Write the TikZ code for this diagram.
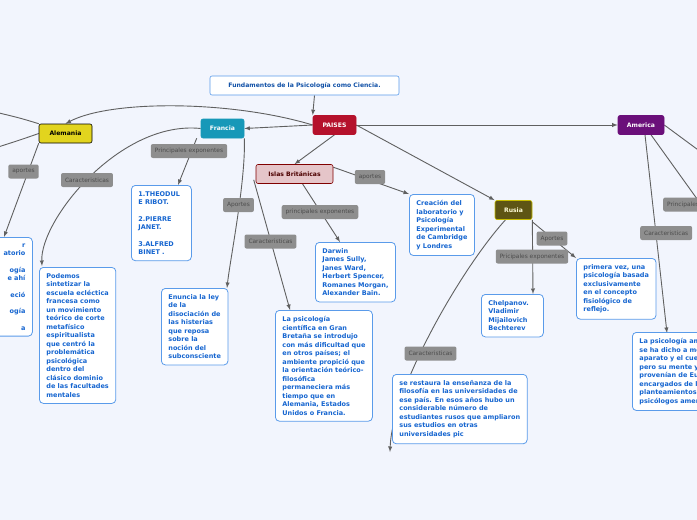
\documentclass[tikz,border=0pt]{standalone}
\usepackage{fontspec}
\setmainfont{DejaVu Sans}
\pgfdeclarelayer{back}
\pgfdeclarelayer{lines}
\pgfsetlayers{back,lines,main}
\begin{document}
\begin{tikzpicture}[x=1pt,y=-1pt,
  every node/.style={font=\bfseries\fontsize{6.1}{8.5}\selectfont},
  bt/.style={font=\bfseries\fontsize{6.5}{8.5}\selectfont},
  main/.style={draw,rounded corners=2pt,minimum height=19pt,inner xsep=3pt,line width=0.6pt},
  lbl/.style={fill=lblc,text=black!70,rounded corners=2pt,minimum height=14pt,inner xsep=4pt,font=\fontsize{5.9}{7}\selectfont},
  txt/.style={bt,draw=boxb,fill=white,rounded corners=4pt,line width=0.8pt,text=boxt,align=left,anchor=north west,inner xsep=7pt,inner ysep=6pt},
  con/.style={draw=gray!75!black,line width=0.9pt},
  arr/.style={con,-latex}]
\definecolor{bg}{HTML}{F2F5FD}
\definecolor{lblc}{HTML}{8E8E8E}
\definecolor{boxb}{HTML}{5A9BEA}
\definecolor{boxt}{HTML}{1565D0}
\definecolor{franc}{HTML}{1798B8}
\definecolor{alemc}{HTML}{E2D41E}
\definecolor{paisc}{HTML}{B5112C}
\definecolor{ibc}{HTML}{E5C5C9}
\definecolor{rusc}{HTML}{5E5514}
\definecolor{amerc}{HTML}{6B0F7A}
\begin{pgfonlayer}{back}
\fill[bg] (0,0) rectangle (697,520);
\end{pgfonlayer}
\useasboundingbox (0,0) rectangle (697,520);
% main nodes
\node[main,draw=boxb,fill=white,text=boxt!80!black,minimum width=189pt] (fund) at (304.5,85.5) {Fundamentos de la Psicología como Ciencia.};
\node[main,fill=paisc,draw=paisc,text=white,minimum width=43pt] (pais) at (334.5,125) {PAISES};
\node[main,fill=alemc,draw=black,text=black,minimum width=53pt] (alem) at (65.5,133.5) {Alemania};
\node[main,fill=franc,draw=franc,text=white,minimum width=43pt] (fran) at (222.5,128.5) {Francia};
\node[main,fill=ibc,draw=red!50!black,text=red!30!black,minimum width=77pt] (ib) at (294.5,174) {Islas Británicas};
\node[main,fill=rusc,draw=yellow!50!olive,text=white!85!yellow,minimum width=37pt] (rus) at (513.5,210) {Rusia};
\node[main,fill=amerc,draw=amerc,text=white,minimum width=46pt] (amer) at (641,125) {America};
\coordinate (offL1) at (-5,112);
\coordinate (offL2) at (-5,148);
\coordinate (offR1) at (705,155);
\coordinate (offR2) at (705,210);
% text boxes
\node[txt,align=right,text width=78pt] (tAl) at (-60,237) {r\\atorio\\[8pt]ogía\\e ahí\\[8pt]eció\\[8pt]ogía\\[8pt]a};
\node[txt] (tFc) at (39,267) {Podemos\\sintetizar la\\escuela ecléctica\\francesa como\\un movimiento\\teórico de corte\\metafísico\\espiritualista\\que centró la\\problemática\\psicológica\\dentro del\\clásico dominio\\de las facultades\\mentales};
\node[txt,text width=46pt] (tFp) at (131,185) {1.THEODUL\\E RIBOT.\\[8pt]2.PIERRE\\JANET.\\[8pt]3.ALFRED\\BINET .};
\node[txt] (tFa) at (161,288) {Enuncia la ley\\de la\\disociación de\\las histerias\\que reposa\\sobre la\\noción del\\subconsciente};
\node[txt] (tIc) at (275,310) {La psicología\\científica en Gran\\Bretaña se introdujo\\con más dificultad que\\en otros países; el\\ambiente propició que\\la orientación teórico-\\filosófica\\permaneciera más\\tiempo que en\\Alemania, Estados\\Unidos o Francia.};
\node[txt] (tIp) at (315,242) {Darwin\\James Sully,\\Janes Ward,\\Herbert Spencer,\\Romanes Morgan,\\Alexander Bain.};
\node[txt] (tIa) at (409,194) {Creación del\\laboratorio y\\Psicología\\Experimental\\de Cambridge\\y Londres};
\node[txt,text width=48pt] (tRp) at (481,294) {Chelpanov.\\Vladimir\\Mijailovich\\Bechterev};
\node[txt] (tRc) at (392,374) {se restaura la enseñanza de la\\filosofía en las universidades de\\ese país. En esos años hubo un\\considerable número de\\estudiantes rusos que ampliaron\\sus estudios en otras\\universidades pic};
\node[txt] (tRa) at (576,258) {primera vez, una\\psicología basada\\exclusivamente\\en el concepto\\fisiológico de\\reflejo.};
\node[txt,text width=100pt] (tAm) at (632,332) {La psicología americana\\se ha dicho a menudo\\aparato y el cuerpo\\pero su mente y sus\\provenían de Europa\\encargados de los\\planteamientos de los\\psicólogos americanos};
% connectors
\begin{pgfonlayer}{lines}
\draw[arr] (fund.south) ++(10,0) -- (pais.north west);
\draw[arr] (pais.west) .. controls (230,100) and (110,100) .. (alem.north);
\draw[arr] (pais.west) -- (fran.east);
\draw[arr] (pais.south) -- (ib.north);
\draw[arr] (pais.east) -- (rus.north west);
\draw[arr] (pais.east) -- (amer.west);
\draw[con] (alem.north west) .. controls (20,118) .. (offL1);
\draw[con] (alem.west) .. controls (20,140) .. (offL2);
\draw[arr] (alem.south west) -- (4,237);
\draw[arr] (fran.west) .. controls (120,120) and (40,220) .. (42,266);
\draw[arr] (fran.south west) ++(-4,0) -- (178,185);
\draw[arr] (fran.south east) .. controls (246,180) and (230,260) .. (227,288);
\draw[arr] (ib.south west) ++(-2,-4) -- (290,310);
\draw[arr] (ib.south) ++(8,0) -- (340,242);
\draw[arr] (ib.north east) ++(0,3) -- (409,194);
\draw[arr] (rus.south) ++(-8,0) .. controls (460,270) and (392,390) .. (390,452);
\draw[arr] (rus.south east) -- (533,294);
\draw[arr] (rus.south east) ++(0,2) -- (576,258);
\draw[arr] (amer.south) ++(4,0) -- (667,333);
\draw[con] (amer.south) ++(10,0) -- (offR2);
\draw[con] (amer.east) -- (offR1);
\end{pgfonlayer}
% connector labels
\node[lbl] (l1) at (23.5,171.5) {aportes};
\node[lbl] (l2) at (87,180) {Caracteristicas};
\node[lbl] (l3) at (189,151) {Principales exponentes};
\node[lbl] (l4) at (238.5,205) {Aportes};
\node[lbl] (l5) at (270.5,241.5) {Caracteristicas};
\node[lbl] (l6) at (320,212) {principales exponentes};
\node[lbl] (l7) at (370,177) {aportes};
\node[lbl] (l8) at (430.5,353.5) {Caracteristicas};
\node[lbl] (l9) at (552,238.5) {Aportes};
\node[lbl] (l10) at (532,256.5) {Pricipales exponentes};
\node[lbl,anchor=west] (l11) at (663,204.5) {Principales exponentes};
\node[lbl,anchor=west] (l12) at (640,233) {Caracteristicas};
\end{tikzpicture}
\end{document}
